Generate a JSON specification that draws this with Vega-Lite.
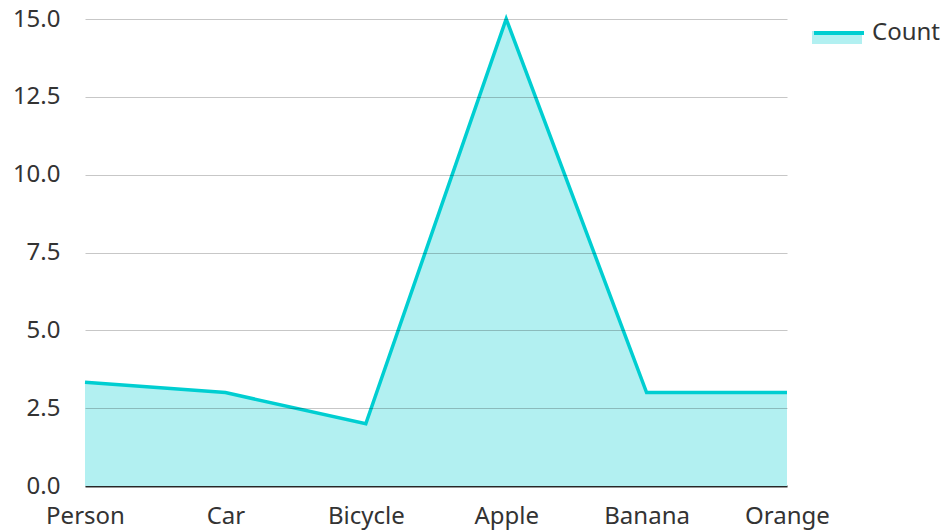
{
  "$schema": "https://vega.github.io/schema/vega-lite/v6.json",
  "autosize": "none",
  "width": 702,
  "height": 467,
  "padding": {"left": 85, "top": 19, "right": 158, "bottom": 45},
  "background": "white",
  "config": {
    "font": "Noto Sans",
    "view": {"stroke": null},
    "axis": {"labelFont": "Noto Sans", "labelFontSize": 24, "labelColor": "#333333", "titleColor": "#333333"},
    "legend": {"labelFont": "Noto Sans", "labelFontSize": 24, "labelColor": "#333333"}
  },
  "data": {
    "values": [
      {"label": "Person", "count": 3.33},
      {"label": "Car", "count": 3},
      {"label": "Bicycle", "count": 2},
      {"label": "Apple", "count": 15},
      {"label": "Banana", "count": 3},
      {"label": "Orange", "count": 3}
    ]
  },
  "encoding": {
    "x": {
      "field": "label",
      "type": "ordinal",
      "sort": null,
      "scale": {"type": "point", "padding": 0},
      "axis": {"title": null, "labelAngle": 0, "ticks": false, "domainColor": "#333333", "domainWidth": 2, "labelPadding": 18, "grid": false}
    },
    "y": {
      "field": "count",
      "type": "quantitative",
      "scale": {"domain": [0, 15], "nice": false},
      "axis": {"title": null, "values": [0, 2.5, 5, 7.5, 10, 12.5, 15], "format": ".1f", "ticks": false, "domain": false, "labelPadding": 25, "gridColor": "black", "gridOpacity": 0.22, "gridWidth": 1, "zindex": 1}
    }
  },
  "layer": [
    {
      "mark": {"type": "area"},
      "encoding": {
        "fill": {
          "datum": "Count",
          "scale": {"range": ["#b2f0f1"]},
          "legend": {"title": null, "orient": "none", "legendX": 727, "legendY": -13, "symbolType": "M-1,0H1V0.52H-1Z", "symbolSize": 2500, "symbolStrokeWidth": 0, "symbolOpacity": 1, "labelExpr": "''", "labelOffset": 6}
        }
      }
    },
    {
      "mark": {"type": "line", "strokeWidth": 3.5},
      "encoding": {
        "stroke": {
          "datum": "Count",
          "scale": {"range": ["#00ced1"]},
          "legend": {"title": null, "orient": "none", "legendX": 727, "legendY": -13, "symbolType": "M-1,0H1", "symbolSize": 2500, "symbolStrokeWidth": 4, "labelOffset": 6}
        }
      }
    }
  ],
  "resolve": {"scale": {"fill": "independent", "stroke": "independent"}, "legend": {"fill": "independent", "stroke": "independent"}}
}
